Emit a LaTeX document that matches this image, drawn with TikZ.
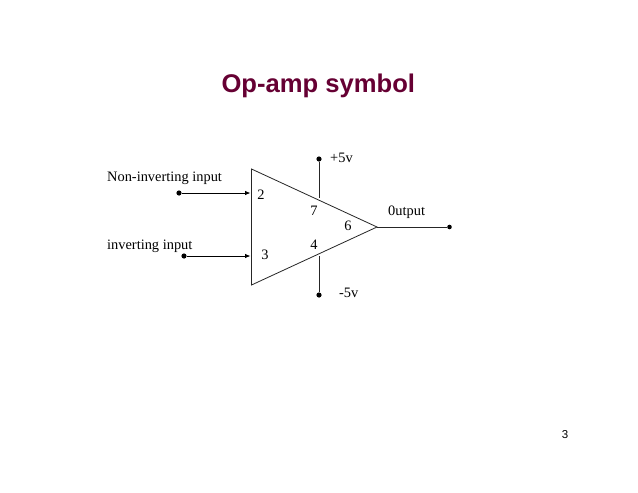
\documentclass[tikz,border=0pt]{standalone}
\usepackage{fontspec}
\setmainfont{Liberation Serif}
\newfontfamily\titlefont{Liberation Sans}
\definecolor{titlecol}{RGB}{102,0,51}
\usetikzlibrary{arrows.meta}
\begin{document}
\begin{tikzpicture}[x=1pt,y=-1pt,
  lbl/.style={inner sep=0pt,text=black,font=\fontsize{14.4}{16}\selectfont},
  pin/.style={circle,fill=black,inner sep=0pt,minimum size=5.2pt},
  wire/.style={line width=0.9pt,draw=black!85},
  feed/.style={line width=0.85pt,draw=black,-{Latex[length=5.5pt,width=4.5pt]},shorten >=1pt},
  body/.style={line width=0.8pt,draw=black!85,line join=miter}]
\useasboundingbox[fill=white] (0,0) rectangle (638,493);
\node[inner sep=0pt,text=titlecol,anchor=base,font=\titlefont\bfseries\fontsize{25.6}{30}\selectfont] (title) at (318.3,92.5) {Op-amp symbol};
\coordinate (tl) at (251.5,169);
\coordinate (tip) at (377,227);
\coordinate (bl) at (251.5,285);
\coordinate (in2) at (251.5,193);
\coordinate (in3) at (251.5,256);
\coordinate (vp) at (319,198);
\coordinate (vn) at (319,256);
\draw[body] (tl) -- (tip) -- (bl) -- cycle;
\node[pin] (dn) at (179,193) {};
\node[pin] (di) at (184,256) {};
\node[pin] (dp) at (319,159) {};
\node[pin] (dm) at (319,295) {};
\node[pin,minimum size=4.6pt] (do) at (449.5,227) {};
\draw[feed] (dn) -- (in2);
\draw[feed] (di) -- (in3);
\draw[wire] (dp) -- (vp);
\draw[wire] (dm) -- (vn);
\draw[wire] (tip) -- (do);
\node[lbl,anchor=base west] (ln) at (107,181.5) {Non-inverting input};
\node[lbl,anchor=base west] (li) at (107,249) {inverting input};
\node[lbl,anchor=base] (n2) at (261,199.5) {2};
\node[lbl,anchor=base] (n3) at (265,259.5) {3};
\node[lbl,anchor=base] (n7) at (314,215) {7};
\node[lbl,anchor=base] (n6) at (348,230) {6};
\node[lbl,anchor=base] (n4) at (314,249) {4};
\node[lbl,anchor=base west] (vpl) at (330,162) {+5v};
\node[lbl,anchor=base west] (vml) at (339,297) {-5v};
\node[lbl,anchor=base west] (out) at (388,215) {0utput};
\node[inner sep=0pt,font=\titlefont\fontsize{11.5}{13}\selectfont,anchor=base] (pg) at (565,438) {3};
\end{tikzpicture}
\end{document}
